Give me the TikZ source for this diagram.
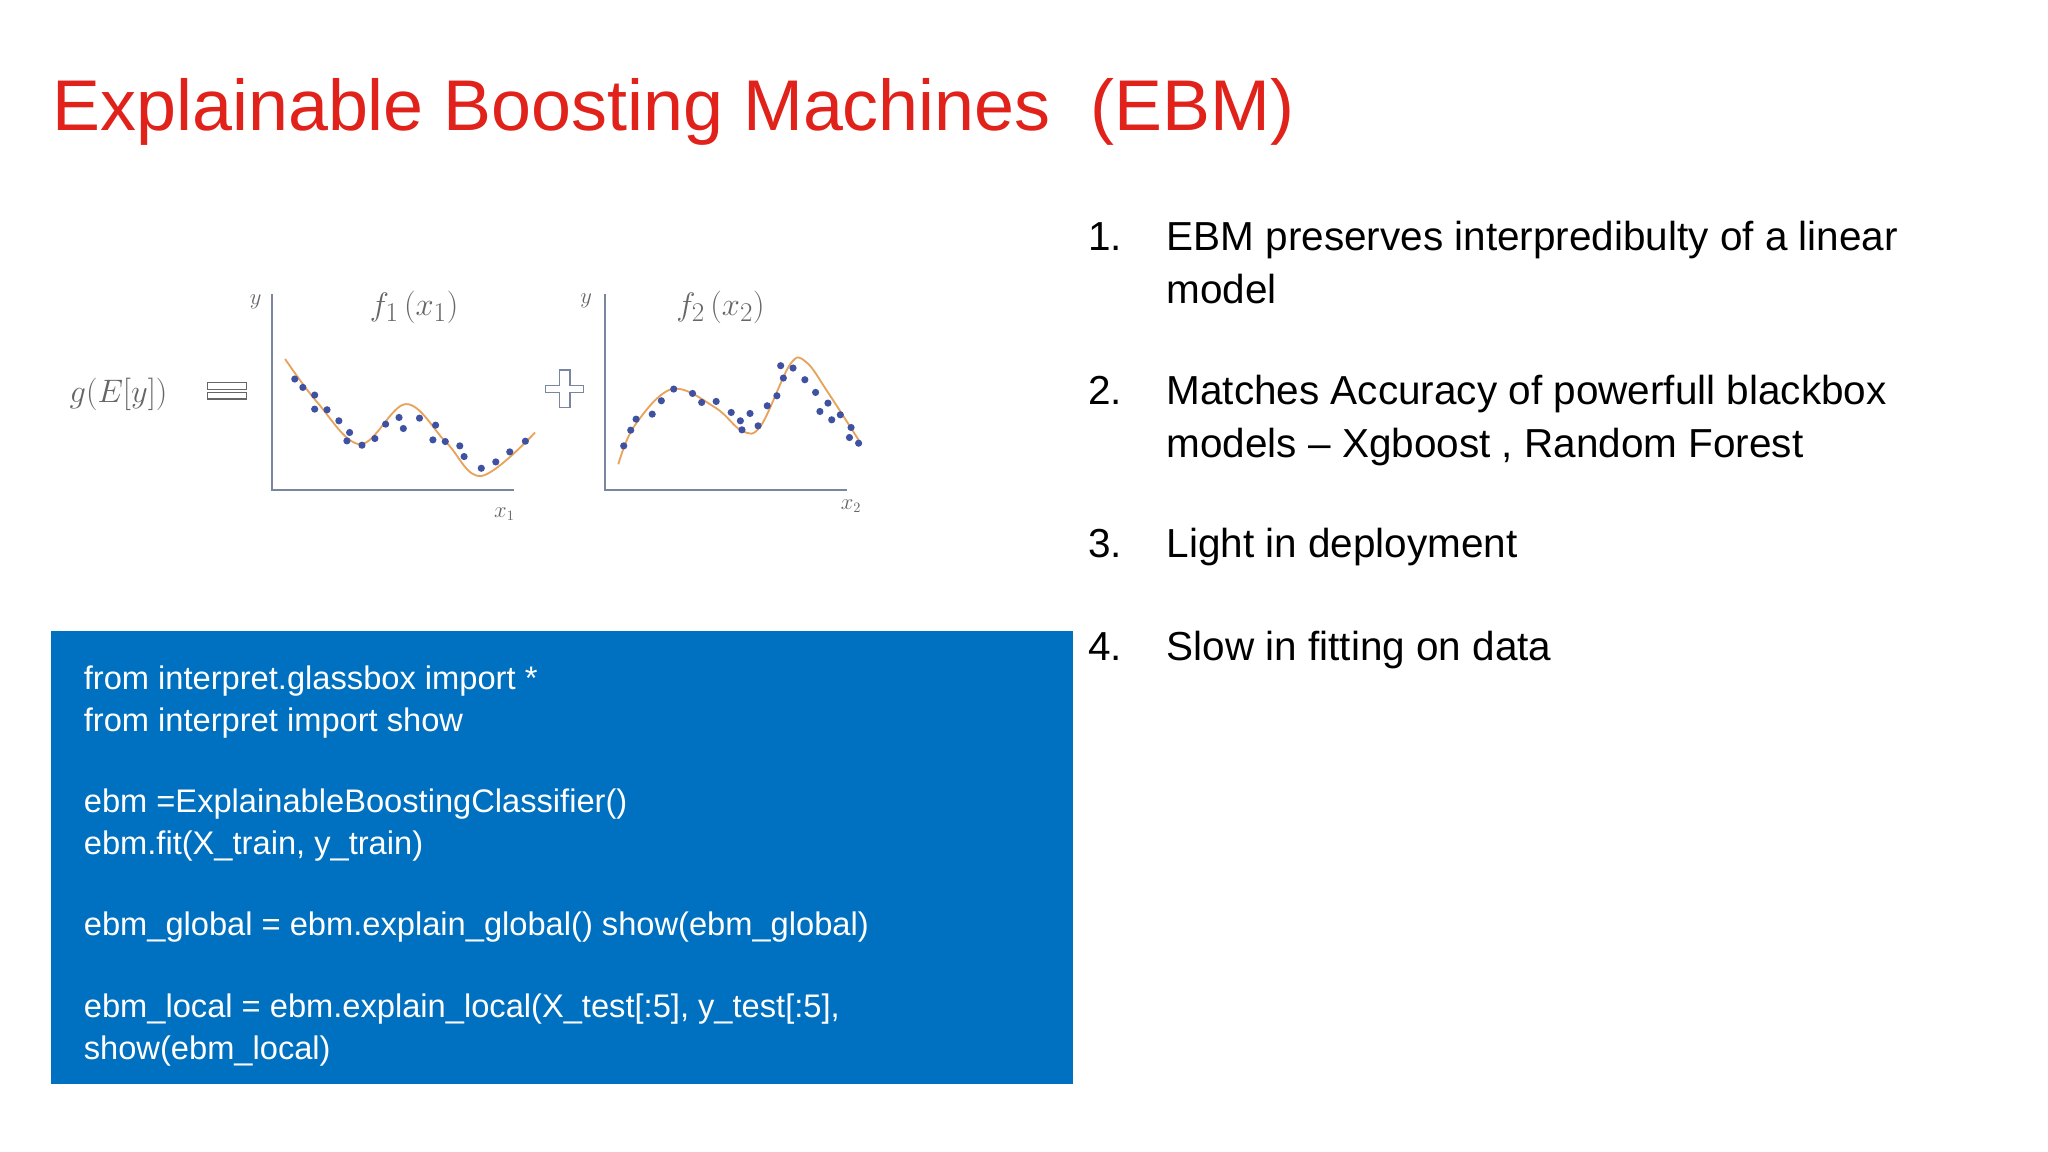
\documentclass[tikz,border=0pt]{standalone}
\usepackage{fontspec}
\setmainfont{Liberation Sans}
\definecolor{ttl}{HTML}{E0221B}
\definecolor{boxblue}{HTML}{0070C0}
\definecolor{dotc}{HTML}{3F52A2}
\definecolor{curvec}{HTML}{E8A25A}
\definecolor{axc}{HTML}{7A86A0}
\definecolor{mathc}{HTML}{666666}
\begin{document}
\begin{tikzpicture}[x=1pt,y=-1pt,
  txt/.style={anchor=base west,inner sep=0pt},
  codetxt/.style={txt,text=white,font=\fontsize{25}{30}\selectfont},
  listtxt/.style={txt,font=\fontsize{31}{37}\selectfont},
  dotn/.style={circle,fill=dotc,inner sep=0pt,minimum size=5.5pt},
  mathlbl/.style={text=mathc,inner sep=0pt}]
\useasboundingbox (0,0) rectangle (1568,882);
\fill[white] (0,0) rectangle (1568,882);
\node[txt,text=ttl,font=\fontsize{55}{60}\selectfont] (title) at (40,100) {Explainable Boosting Machines\ \ (EBM)};
% code box
\node[fill=boxblue,minimum width=782pt,minimum height=347pt,anchor=north west,inner sep=0pt] (box) at (39,483) {};
\node[codetxt] (c1) at (64,528) {from interpret.glassbox import *};
\node[codetxt] (c2) at (64,560) {from interpret import show};
\node[codetxt] (c3) at (64,622) {ebm =ExplainableBoostingClassifier()};
\node[codetxt] (c4) at (64,654) {ebm.fit(X\_train, y\_train)};
\node[codetxt] (c5) at (64,716) {ebm\_global = ebm.explain\_global() show(ebm\_global)};
\node[codetxt] (c6) at (64,779) {ebm\_local = ebm.explain\_local(X\_test[:5], y\_test[:5],};
\node[codetxt] (c7) at (64,811) {show(ebm\_local)};
% list
\node[listtxt] (n1) at (833,192) {1.};
\node[listtxt] (l1a) at (893,192) {EBM preserves interpredibulty of a linear};
\node[listtxt] (l1b) at (893,232) {model};
\node[listtxt] (n2) at (833,310) {2.};
\node[listtxt] (l2a) at (893,310) {Matches Accuracy of powerfull blackbox};
\node[listtxt] (l2b) at (893,350) {models -- Xgboost , Random Forest};
\node[listtxt] (n3) at (833,427) {3.};
\node[listtxt] (l3) at (893,427) {Light in deployment};
\node[listtxt] (n4) at (833,506) {4.};
\node[listtxt] (l4) at (893,506) {Slow in fitting on data};
% plots in zoom coordinates
\begin{scope}[shift={(29.0,205.8)},xscale=0.4115,yscale=0.2558]
  \draw[axc,line width=1.3pt] (435,75) -- (435,662) -- (885,662);
  \draw[axc,line width=1.3pt] (1055,75) -- (1055,662) -- (1505,662);
  \draw[curvec,line width=1.4pt] plot[smooth,tension=0.6] coordinates {(460,270) (520,400) (600,525) (685,405) (760,520) (825,620) (925,490)};
  \draw[curvec,line width=1.4pt] plot[smooth,tension=0.6] coordinates {(1080,585) (1110,470) (1180,360) (1260,415) (1310,485) (1345,470) (1400,285) (1430,280) (1470,370) (1530,520)};
  \foreach \p [count=\i] in {(478,330),(493,355),(515,378),(515,420),(538,422),(560,455),(580,490),(575,515),(603,528),(627,508),(647,465),(672,445),(680,478),(710,447),(740,468),(735,512),(758,517),(785,530),(793,562),(825,597),(852,578),(878,548),(907,516)}
    \node[dotn] (da\i) at \p {};
  \foreach \p [count=\i] in {(1090,530),(1103,483),(1113,450),(1143,435),(1160,395),(1183,360),(1218,373),(1235,400),(1262,397),(1290,430),(1307,455),(1325,433),(1310,482),(1340,470),(1357,410),(1375,380),(1387,327),(1382,290),(1405,297),(1427,332),(1447,370),(1470,402),(1455,427),(1477,452),(1493,437),(1513,475),(1510,505),(1527,522)}
    \node[dotn] (db\i) at \p {};
  \node[mathlbl,font=\fontsize{16}{18}\selectfont] (y1) at (405,100) {$y$};
  \node[mathlbl,font=\fontsize{16}{18}\selectfont] (y2) at (1020,95) {$y$};
  \node[mathlbl,font=\fontsize{28}{30}\selectfont] (f1) at (700,115) {$f_1\,(x_1)$};
  \node[mathlbl,font=\fontsize{28}{30}\selectfont] (f2) at (1270,115) {$f_2\,(x_2)$};
  \node[mathlbl,font=\fontsize{16}{18}\selectfont] (x1) at (868,735) {$x_1$};
  \node[mathlbl,font=\fontsize{16}{18}\selectfont] (x2) at (1513,710) {$x_2$};
  \node[mathlbl,font=\fontsize{30}{32}\selectfont] (g) at (150,375) {$g(E[y])$};
  \draw[mathc,line width=1pt] (315,340) rectangle (388,362) (315,370) rectangle (388,390);
  \draw[axc,line width=1pt] (970,303) -- (990,303) -- (990,350) -- (1015,350) -- (1015,370) -- (990,370) -- (990,415) -- (970,415) -- (970,370) -- (945,370) -- (945,350) -- (970,350) -- cycle;
\end{scope}
\end{tikzpicture}
\end{document}
